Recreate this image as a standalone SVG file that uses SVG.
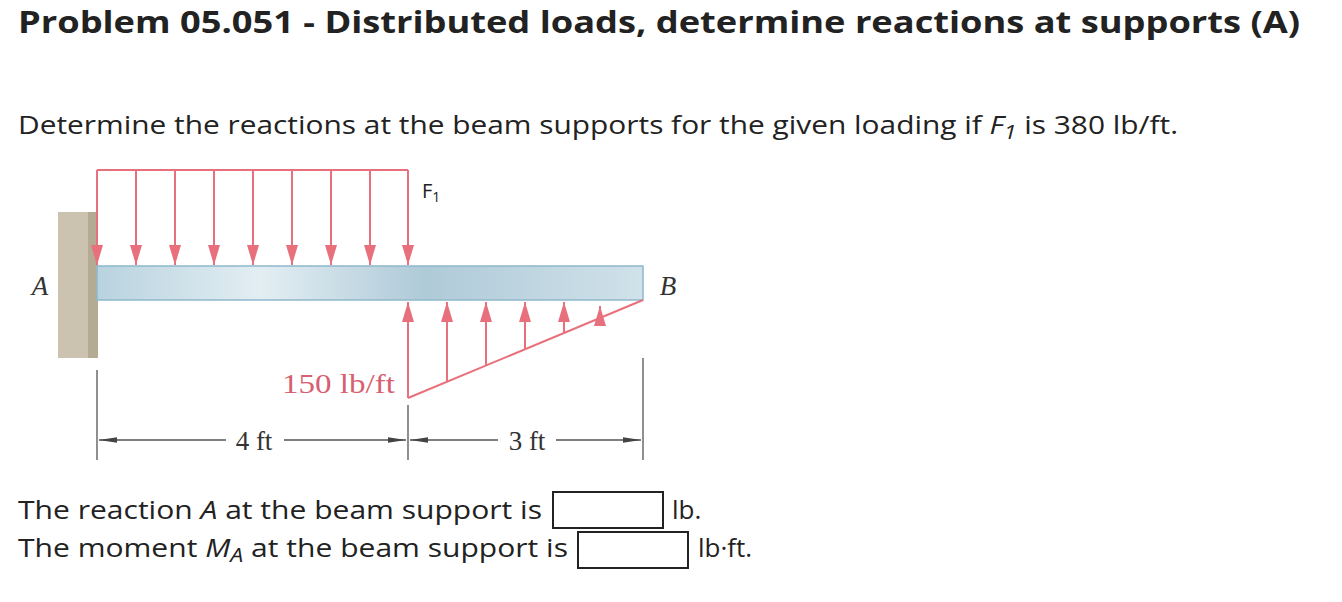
<svg xmlns="http://www.w3.org/2000/svg" width="1342" height="602" viewBox="0 0 1342 602">
<style>
.t{font-family:"Open Sans","Liberation Sans",sans-serif;fill:#222}
.s{font-family:"Liberation Serif",serif;fill:#333}
.ld{stroke:#e8707c;stroke-width:2;fill:none}
.dm{stroke:#555;stroke-width:1.3;fill:none}
.bx{fill:#fff;stroke:#222;stroke-width:2}
</style>
<defs>
<marker id="ah" viewBox="0 0 10 10" refX="10" refY="5" markerWidth="20" markerHeight="12" orient="auto" markerUnits="userSpaceOnUse" preserveAspectRatio="none"><path d="M0,0L10,5L0,10z" fill="#e8707c"/></marker>
<marker id="dh" viewBox="0 0 10 10" refX="10" refY="5" markerWidth="18" markerHeight="8" orient="auto" markerUnits="userSpaceOnUse" preserveAspectRatio="none"><path d="M0,1.5L10,5L0,8.5z" fill="#444"/></marker>
<linearGradient id="bg" x1="0" y1="0" x2="1" y2="0">
<stop offset="0" stop-color="#b8d3df"/><stop offset="0.3" stop-color="#e3eef3"/><stop offset="0.6" stop-color="#afcad8"/><stop offset="1" stop-color="#d0e2ea"/></linearGradient>
</defs>
<rect width="1342" height="602" fill="#fff"/>
<text class="t" x="18" y="33" font-size="30" font-weight="bold" textLength="1282" lengthAdjust="spacingAndGlyphs">Problem 05.051 - Distributed loads, determine reactions at supports (A)</text>
<text class="t" x="18" y="134" font-size="26" textLength="1160" lengthAdjust="spacingAndGlyphs">Determine the reactions at the beam supports for the given loading if <tspan font-style="italic">F</tspan><tspan font-style="italic" font-size="20" dy="5">1</tspan><tspan dy="-5"> is 380 lb/ft.</tspan></text>
<g id="wall"><rect x="58" y="212" width="40" height="146" fill="#cbc3b0"/><rect x="88" y="212" width="10" height="146" fill="#b5ab94"/></g>
<g id="beam"><rect x="97" y="266" width="546" height="34" fill="url(#bg)" stroke="#8fb8cc" stroke-width="1.5"/></g>
<g id="load-uniform">
<path class="ld" d="M97,170H408"/>
<g class="ld" marker-end="url(#ah)">
<path d="M97,170V265"/><path d="M136,170V265"/><path d="M175,170V265"/><path d="M214,170V265"/><path d="M253,170V265"/><path d="M292,170V265"/><path d="M331,170V265"/><path d="M370,170V265"/><path d="M408,170V265"/>
</g>
</g>
<text class="t" x="422" y="198" font-size="20">F<tspan font-size="14" dy="4">1</tspan></text>
<g id="load-triangle">
<path class="ld" d="M408,398L643,300"/>
<g class="ld" marker-end="url(#ah)">
<path d="M408,398V302"/><path d="M447,382V302"/><path d="M486,366V302"/><path d="M525,349V302"/><path d="M564,333V302"/><path d="M600,318V306"/>
</g>
</g>
<text class="s" x="395" y="393" font-size="28" text-anchor="end" textLength="113" lengthAdjust="spacingAndGlyphs" style="fill:#d85f72">150 lb/ft</text>
<text class="s" x="40" y="295" font-size="27" font-style="italic" text-anchor="middle">A</text>
<text class="s" x="668" y="295" font-size="27" font-style="italic" text-anchor="middle">B</text>
<g id="connectors">
<path class="dm" d="M97,370V460M408,405V460M643,358V460"/>
<path class="dm" marker-end="url(#dh)" d="M226,440H99"/>
<path class="dm" marker-end="url(#dh)" d="M284,440H406"/>
<path class="dm" marker-end="url(#dh)" d="M498,440H410"/>
<path class="dm" marker-end="url(#dh)" d="M556,440H641"/>
</g>
<text class="s" x="254" y="450" font-size="27" text-anchor="middle">4 ft</text>
<text class="s" x="527" y="450" font-size="27" text-anchor="middle">3 ft</text>
<text class="t" x="18" y="519" font-size="26" textLength="524" lengthAdjust="spacingAndGlyphs">The reaction <tspan font-style="italic">A</tspan> at the beam support is</text>
<rect class="bx" x="553" y="492" width="110" height="36"/>
<text class="t" x="672" y="519" font-size="26">lb.</text>
<text class="t" x="18" y="557" font-size="26" textLength="550" lengthAdjust="spacingAndGlyphs">The moment <tspan font-style="italic">M</tspan><tspan font-style="italic" font-size="20" dy="5">A</tspan><tspan dy="-5"> at the beam support is</tspan></text>
<rect class="bx" x="578" y="532" width="110" height="36"/>
<text class="t" x="698" y="557" font-size="26">lb·ft.</text>
</svg>
